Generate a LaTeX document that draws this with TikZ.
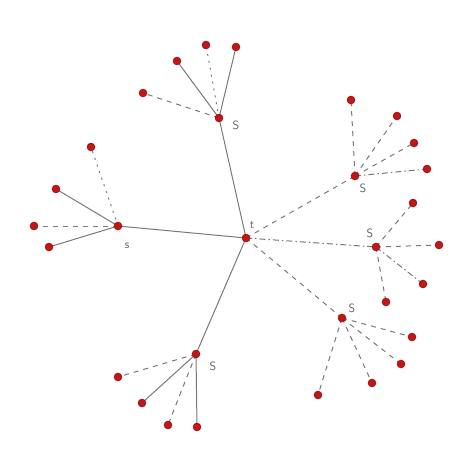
\documentclass[tikz,border=0pt]{standalone}
\usetikzlibrary{backgrounds}
\begin{document}
\begin{tikzpicture}[x=1pt,y=-1pt,
  vtx/.style={circle,fill={rgb,255:red,200;green,20;blue,20},draw={rgb,255:red,110;green,10;blue,10},line width=0.4pt,inner sep=0pt,minimum size=8pt},
  lbl/.style={font=\sffamily\large,text={rgb,255:red,95;green,95;blue,95}},
  edge/.style={draw={rgb,255:red,120;green,120;blue,120},line width=1pt},
  sol/.style={edge},
  dsh/.style={edge,dash pattern=on 5pt off 5pt},
  dot/.style={edge,dash pattern=on 2pt off 5pt},
  dshdot/.style={edge,dash pattern=on 6pt off 3pt on 1.5pt off 3pt}]
\useasboundingbox (0,0) rectangle (474,474);
% hubs
\node[vtx] (t) at (246,238) {};
\node[vtx] (s1) at (219,118) {};
\node[vtx] (s2) at (118,226) {};
\node[vtx] (s3) at (196,354) {};
\node[vtx] (s4) at (355,176) {};
\node[vtx] (s5) at (376,247) {};
\node[vtx] (s6) at (342,318) {};
% labels
\node[lbl] (lt) at (252,225) {t};
\node[lbl] (l1) at (236,125) {S};
\node[lbl] (l2) at (127,246) {s};
\node[lbl] (l3) at (213,366) {S};
\node[lbl] (l4) at (363,188) {S};
\node[lbl] (l5) at (370,233) {S};
\node[lbl] (l6) at (352,308) {S};
% leaves
\node[vtx] (a1) at (206,45) {};
\node[vtx] (a2) at (236,47) {};
\node[vtx] (a3) at (177,61) {};
\node[vtx] (a4) at (143,93) {};
\node[vtx] (b1) at (91,147) {};
\node[vtx] (b2) at (56,189) {};
\node[vtx] (b3) at (34,226) {};
\node[vtx] (b4) at (49,247) {};
\node[vtx] (c1) at (118,377) {};
\node[vtx] (c2) at (142,403) {};
\node[vtx] (c3) at (168,425) {};
\node[vtx] (c4) at (197,427) {};
\node[vtx] (d1) at (351,100) {};
\node[vtx] (d2) at (397,116) {};
\node[vtx] (d3) at (414,143) {};
\node[vtx] (d4) at (427,169) {};
\node[vtx] (e1) at (413,203) {};
\node[vtx] (e2) at (439,245) {};
\node[vtx] (e3) at (423,284) {};
\node[vtx] (e4) at (386,302) {};
\node[vtx] (f1) at (412,337) {};
\node[vtx] (f2) at (401,364) {};
\node[vtx] (f3) at (372,383) {};
\node[vtx] (f4) at (318,395) {};
\begin{scope}[on background layer]
% edges from t
\path[sol] (t.center) -- (s1.center);
\path[sol] (t.center) -- (s2.center);
\path[sol] (t.center) -- (s3.center);
\path[dsh] (t.center) -- (s4.center);
\path[dshdot] (t.center) -- (s5.center);
\path[dsh] (t.center) -- (s6.center);
% s1
\path[dot] (s1.center) -- (a1.center);
\path[sol] (s1.center) -- (a2.center);
\path[sol] (s1.center) -- (a3.center);
\path[dsh] (s1.center) -- (a4.center);
% s2
\path[dot] (s2.center) -- (b1.center);
\path[sol] (s2.center) -- (b2.center);
\path[dsh] (s2.center) -- (b3.center);
\path[sol] (s2.center) -- (b4.center);
% s3
\path[dsh] (s3.center) -- (c1.center);
\path[sol] (s3.center) -- (c2.center);
\path[dsh] (s3.center) -- (c3.center);
\path[sol] (s3.center) -- (c4.center);
% s4
\path[dsh] (s4.center) -- (d1.center);
\path[dsh] (s4.center) -- (d2.center);
\path[dsh] (s4.center) -- (d3.center);
\path[dshdot] (s4.center) -- (d4.center);
% s5
\path[dsh] (s5.center) -- (e1.center);
\path[dsh] (s5.center) -- (e2.center);
\path[dshdot] (s5.center) -- (e3.center);
\path[dsh] (s5.center) -- (e4.center);
% s6
\path[dsh] (s6.center) -- (f1.center);
\path[dsh] (s6.center) -- (f2.center);
\path[dsh] (s6.center) -- (f3.center);
\path[dsh] (s6.center) -- (f4.center);
\end{scope}
\end{tikzpicture}
\end{document}
